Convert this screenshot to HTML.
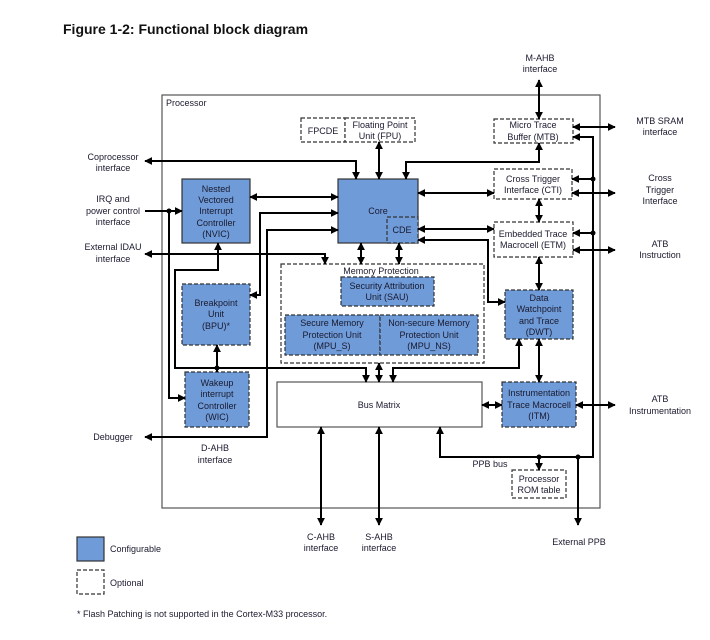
<!DOCTYPE html>
<html><head><meta charset="utf-8"><style>
body{margin:0;background:#fff;}
svg{display:block;font-family:"Liberation Sans",Arial,sans-serif;}
text{font-size:9px;fill:#1a1a2e;text-anchor:middle;}
.b{fill:#6f9bd9;stroke:#333;stroke-width:1.2;}
.bd{fill:#6f9bd9;stroke:#333;stroke-width:1.2;stroke-dasharray:4 2;}
.d{fill:#fff;stroke:#333;stroke-width:1.2;stroke-dasharray:4 2;}
.l{fill:none;stroke:#000;stroke-width:2;}
</style></head><body>
<svg width="710" height="640" viewBox="0 0 710 640">
<defs><marker id="a" viewBox="0 0 10 10" refX="9" refY="5" markerWidth="4" markerHeight="4" orient="auto-start-reverse"><path d="M0,0L10,5L0,10z" fill="#000"/></marker></defs>
<text x="63" y="34" style="font-size:14px;font-weight:bold;text-anchor:start;fill:#111">Figure 1-2: Functional block diagram</text>
<rect x="162" y="95" width="438" height="413" fill="none" stroke="#555" stroke-width="1.2"/>
<text x="166" y="106" style="text-anchor:start">Processor</text>

<rect class="d" x="301" y="118" width="44" height="24"/><text x="323" y="134">FPCDE</text>
<rect class="d" x="345" y="118" width="70" height="24"/><text x="380" y="128">Floating Point</text><text x="380" y="139">Unit (FPU)</text>
<rect class="b" x="338" y="179" width="80" height="64"/><text x="378" y="214">Core</text>
<rect class="bd" x="387" y="217" width="31" height="26"/><text x="402" y="233">CDE</text>
<rect class="b" x="182" y="179" width="68" height="64"/><text x="216" y="192">Nested</text><text x="216" y="203">Vectored</text><text x="216" y="214">Interrupt</text><text x="216" y="226">Controller</text><text x="216" y="237">(NVIC)</text>
<rect class="d" x="494" y="119" width="79" height="24"/><text x="533" y="128">Micro Trace</text><text x="533" y="140">Buffer (MTB)</text>
<rect class="d" x="494" y="169" width="78" height="30"/><text x="533" y="182">Cross Trigger</text><text x="533" y="193">Interface (CTI)</text>
<rect class="d" x="494" y="222" width="79" height="35"/><text x="533" y="237">Embedded Trace</text><text x="533" y="248">Macrocell (ETM)</text>
<rect class="d" x="281" y="264" width="203" height="99"/><text x="381" y="274">Memory Protection</text>
<rect class="bd" x="341" y="277" width="93" height="29"/><text x="387" y="289">Security Attribution</text><text x="387" y="300">Unit (SAU)</text>
<rect class="bd" x="285" y="315" width="95" height="40"/><text x="332" y="326">Secure Memory</text><text x="332" y="338">Protection Unit</text><text x="332" y="349">(MPU_S)</text>
<rect class="bd" x="380" y="315" width="98" height="40"/><text x="429" y="326">Non-secure Memory</text><text x="429" y="338">Protection Unit</text><text x="429" y="349">(MPU_NS)</text>
<rect class="bd" x="182" y="284" width="68" height="61"/><text x="216" y="306">Breakpoint</text><text x="216" y="317">Unit</text><text x="216" y="329">(BPU)*</text>
<rect class="bd" x="185" y="372" width="64" height="55"/><text x="217" y="386">Wakeup</text><text x="217" y="397">interrupt</text><text x="217" y="409">Controller</text><text x="217" y="420">(WIC)</text>
<rect x="277" y="382" width="205" height="45" fill="#fff" stroke="#555" stroke-width="1.2"/><text x="379" y="408">Bus Matrix</text>
<rect class="bd" x="505" y="290" width="68" height="49"/><text x="539" y="301">Data</text><text x="539" y="312">Watchpoint</text><text x="539" y="324">and Trace</text><text x="539" y="335">(DWT)</text>
<rect class="bd" x="502" y="382" width="74" height="45"/><text x="539" y="396">Instrumentation</text><text x="539" y="408">Trace Macrocell</text><text x="539" y="419">(ITM)</text>
<rect class="d" x="512" y="470" width="54" height="28"/><text x="539" y="482">Processor</text><text x="539" y="493">ROM table</text>

<g class="l">
<path d="M539 80V119" marker-start="url(#a)" marker-end="url(#a)"/>
<path d="M573 127H615" marker-start="url(#a)" marker-end="url(#a)"/>
<path d="M573 137H593V457H440V427" marker-start="url(#a)" marker-end="url(#a)"/>
<path d="M593 179H572" marker-end="url(#a)"/>
<path d="M593 233H573" marker-end="url(#a)"/>
<path d="M572 193H615" marker-start="url(#a)" marker-end="url(#a)"/>
<path d="M573 250H615" marker-start="url(#a)" marker-end="url(#a)"/>
<path d="M576 405H615" marker-start="url(#a)" marker-end="url(#a)"/>
<path d="M539 199V222" marker-start="url(#a)" marker-end="url(#a)"/>
<path d="M539 257V290" marker-start="url(#a)" marker-end="url(#a)"/>
<path d="M539 339V382" marker-start="url(#a)" marker-end="url(#a)"/>
<path d="M539 457V470" marker-end="url(#a)"/>
<path d="M578 457V525" marker-end="url(#a)"/>
<path d="M418 193H494" marker-start="url(#a)" marker-end="url(#a)"/>
<path d="M418 229H494" marker-start="url(#a)" marker-end="url(#a)"/>
<path d="M418 240H488V302H505" marker-start="url(#a)" marker-end="url(#a)"/>
<path d="M539 143V162H406V179" marker-start="url(#a)" marker-end="url(#a)"/>
<path d="M145 161H356V179" marker-start="url(#a)" marker-end="url(#a)"/>
<path d="M379 142V179" marker-start="url(#a)" marker-end="url(#a)"/>
<path d="M250 197H338" marker-start="url(#a)" marker-end="url(#a)"/>
<path d="M145 211H182" marker-end="url(#a)"/>
<path d="M169 211V398H185" marker-end="url(#a)"/>
<path d="M338 213H260V295H250" marker-start="url(#a)" marker-end="url(#a)"/>
<path d="M338 230H267V437H145" marker-start="url(#a)" marker-end="url(#a)"/>
<path d="M145 254H325V264" marker-start="url(#a)" marker-end="url(#a)"/>
<path d="M361 243V264" marker-start="url(#a)" marker-end="url(#a)"/>
<path d="M399 243V264" marker-start="url(#a)" marker-end="url(#a)"/>
<path d="M218 243V270H175V368H366V382" marker-start="url(#a)" marker-end="url(#a)"/>
<path d="M217 368V345" marker-end="url(#a)"/>
<path d="M217 368V372"/>
<path d="M379 363V382" marker-start="url(#a)" marker-end="url(#a)"/>
<path d="M519 339V368H393V382" marker-start="url(#a)" marker-end="url(#a)"/>
<path d="M321 525V427" marker-start="url(#a)" marker-end="url(#a)"/>
<path d="M379 525V427" marker-start="url(#a)" marker-end="url(#a)"/>
<path d="M482 405H502" marker-start="url(#a)" marker-end="url(#a)"/>
</g>
<g fill="#000"><circle cx="593" cy="179" r="2.5"/><circle cx="593" cy="233" r="2.5"/><circle cx="539" cy="457" r="2.5"/><circle cx="578" cy="457" r="2.5"/><circle cx="169" cy="211" r="2.5"/><circle cx="217" cy="368" r="2.5"/></g>

<text x="540" y="61">M-AHB</text><text x="540" y="72">interface</text>
<text x="660" y="124">MTB SRAM</text><text x="660" y="135">interface</text>
<text x="660" y="181">Cross</text><text x="660" y="193">Trigger</text><text x="660" y="204">Interface</text>
<text x="660" y="247">ATB</text><text x="660" y="258">Instruction</text>
<text x="660" y="402">ATB</text><text x="660" y="414">Instrumentation</text>
<text x="113" y="160">Coprocessor</text><text x="113" y="171">interface</text>
<text x="113" y="202">IRQ and</text><text x="113" y="214">power control</text><text x="113" y="225">interface</text>
<text x="113" y="250">External IDAU</text><text x="113" y="262">interface</text>
<text x="113" y="440">Debugger</text>
<text x="215" y="451">D-AHB</text><text x="215" y="463">interface</text>
<text x="490" y="467">PPB bus</text>
<text x="321" y="540">C-AHB</text><text x="321" y="551">interface</text>
<text x="379" y="540">S-AHB</text><text x="379" y="551">interface</text>
<text x="579" y="545">External PPB</text>
<rect x="77" y="537" width="27" height="24" fill="#6f9bd9" stroke="#333" stroke-width="1.2"/><text x="110" y="552" style="text-anchor:start">Configurable</text>
<rect class="d" x="77" y="570" width="27" height="24"/><text x="110" y="586" style="text-anchor:start">Optional</text>
<text x="77" y="617" style="text-anchor:start">* Flash Patching is not supported in the Cortex-M33 processor.</text>
</svg>
</body></html>
